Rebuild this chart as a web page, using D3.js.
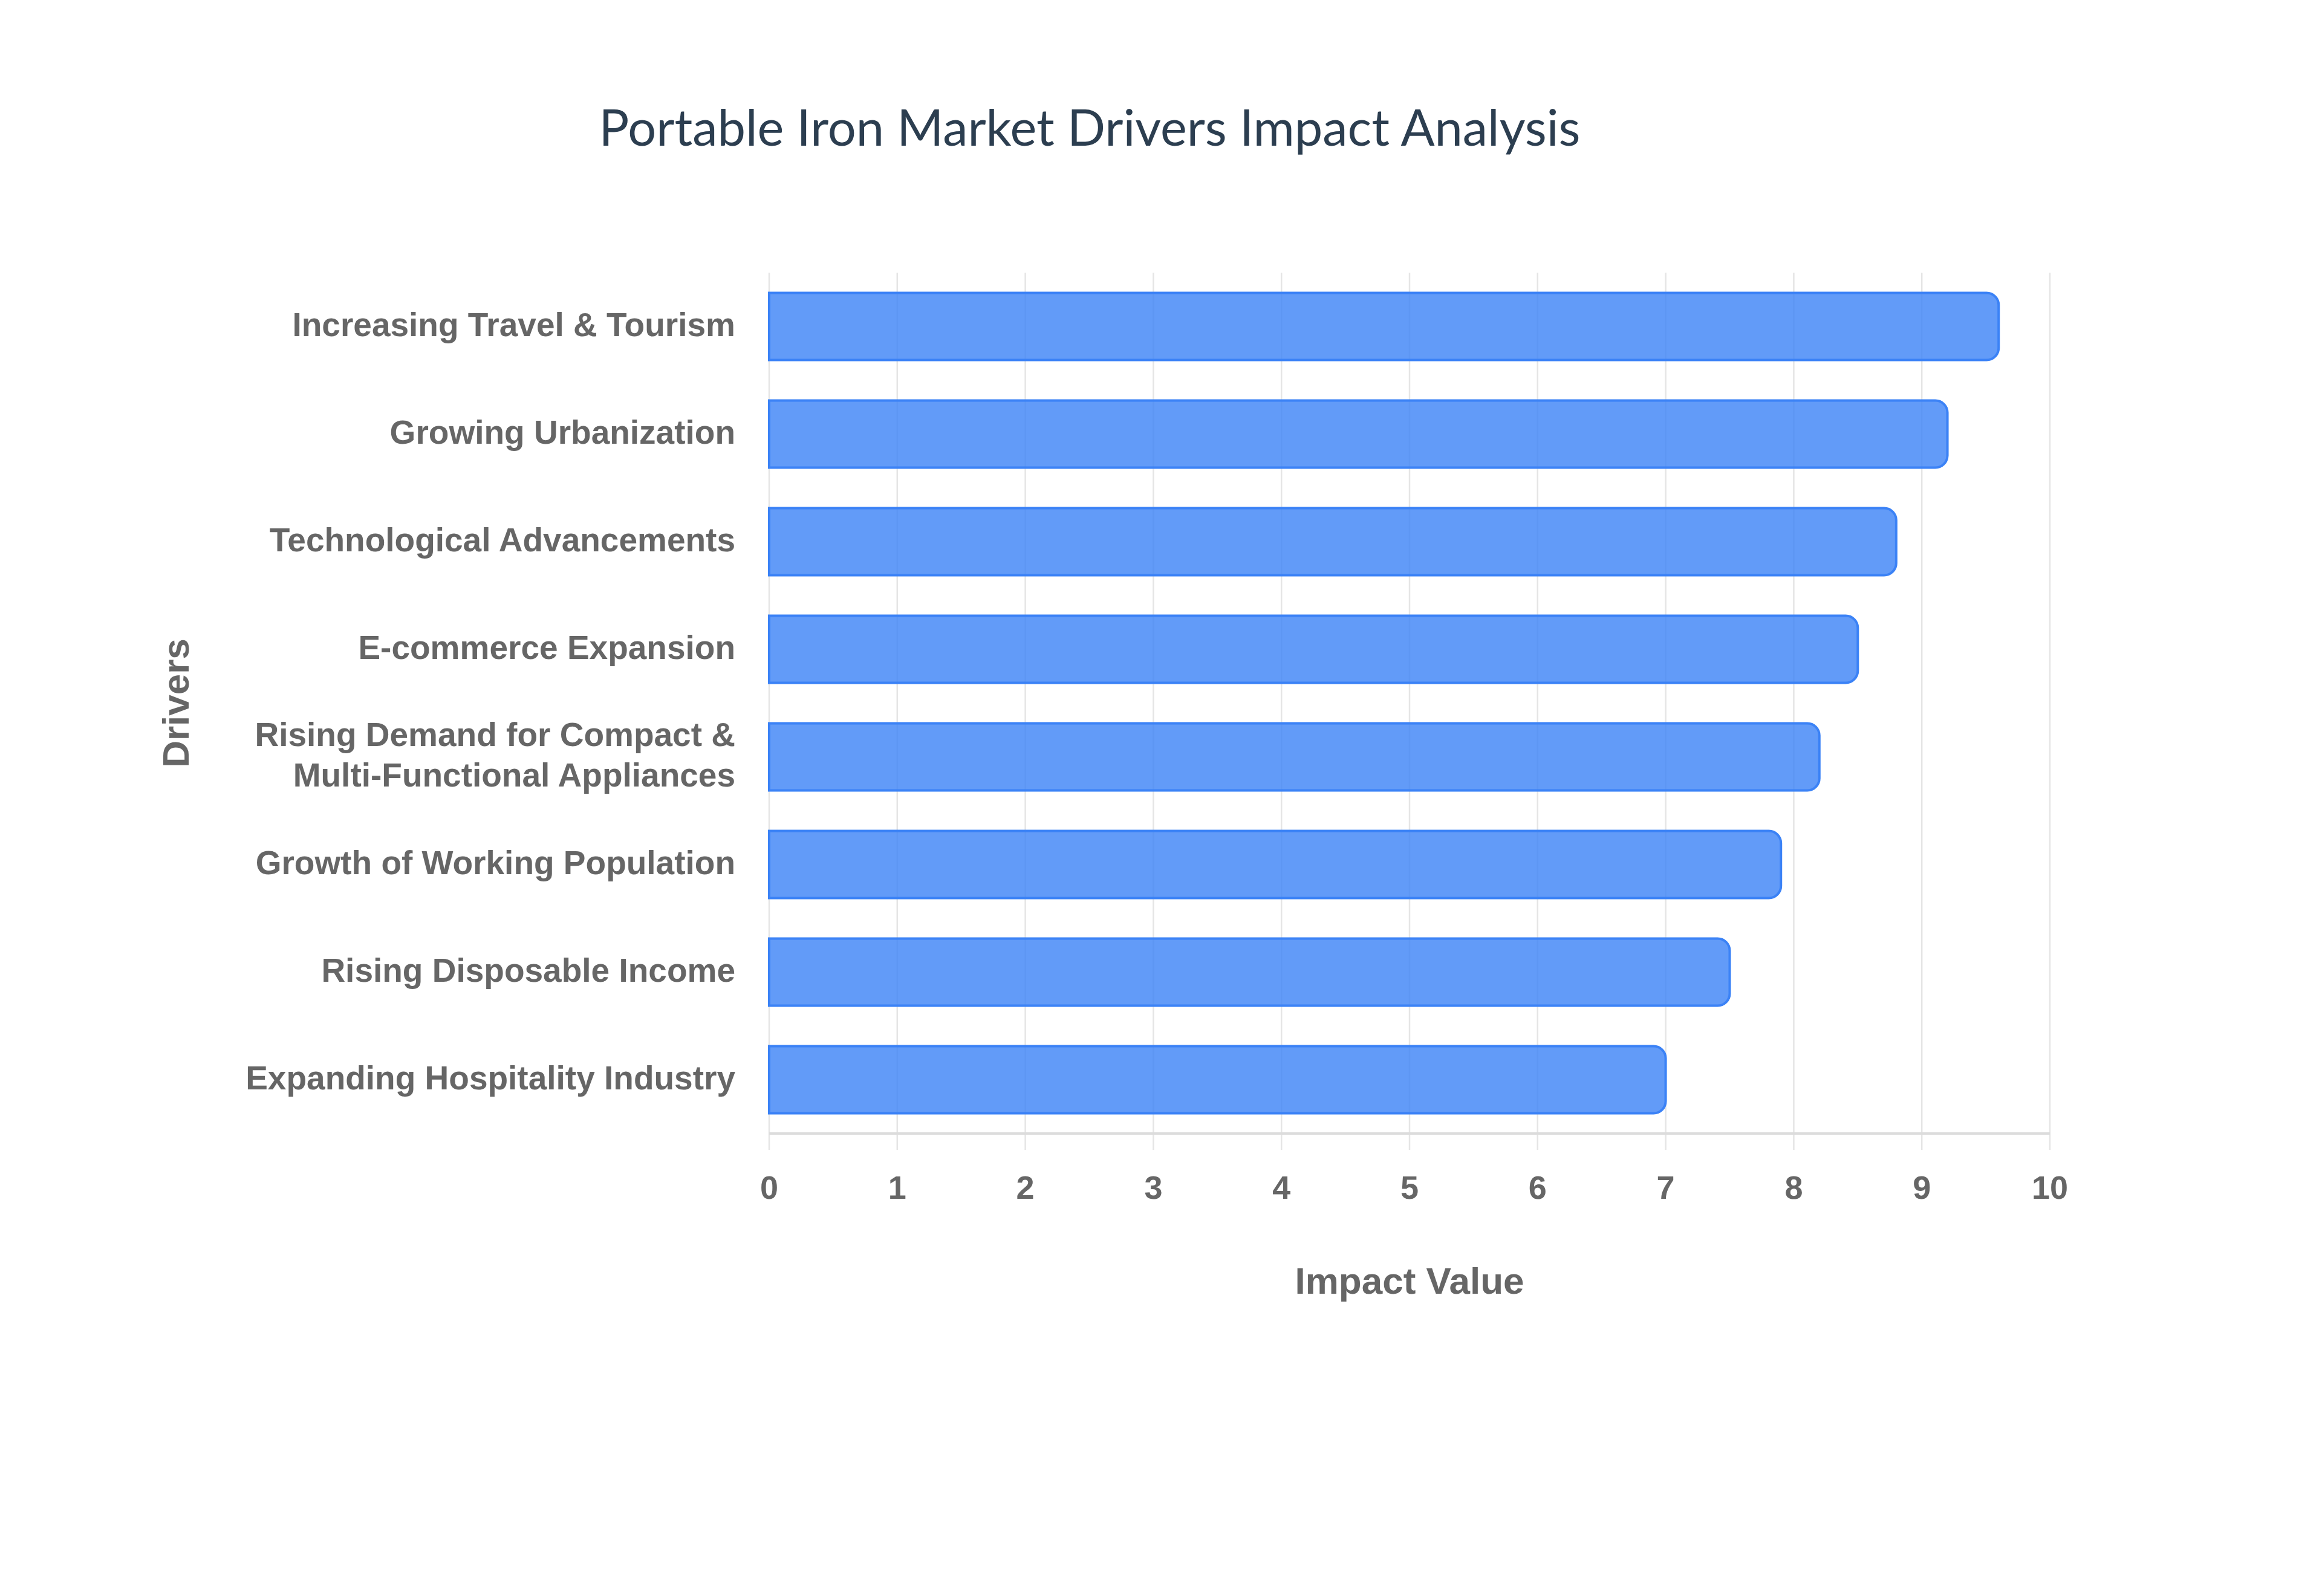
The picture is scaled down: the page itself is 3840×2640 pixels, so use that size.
<!DOCTYPE html>
<html>
<head>
  <meta charset="UTF-8">
  <title>Portable Iron Market Drivers Impact Analysis</title>
  <script src="https://cdn.jsdelivr.net/npm/d3@7"></script>
  <style>
    body { margin: 0; background: #fff; }
    svg text { font-family: "Liberation Sans", Arial, sans-serif; }
  </style>
</head>
<body>
<svg id="chart" width="3840" height="2640"></svg>
<script>
// data, top bar first
var drivers = [
  "Increasing Travel & Tourism",
  "Growing Urbanization",
  "Technological Advancements",
  "E-commerce Expansion",
  "Rising Demand for Compact &\nMulti-Functional Appliances",
  "Growth of Working Population",
  "Rising Disposable Income",
  "Expanding Hospitality Industry"
];
var impactValues = [9.6, 9.2, 8.8, 8.5, 8.2, 7.9, 7.5, 7.0];
var xTicks = [0, 1, 2, 3, 4, 5, 6, 7, 8, 9, 10];

var titleText = "Portable Iron Market Drivers Impact Analysis";
var xTitle = "Impact Value";
var yTitle = "Drivers";

var svg = d3.select("#chart");
svg.append("rect").attr("width", 3840).attr("height", 2640).attr("fill", "#fff");

// plot box (window.top is taken, so no bare "top")
var plotLeft = 1272, plotRight = 3390, plotTop = 451, plotBottom = 1875;

var x = d3.scaleLinear().domain([0, 10]).range([plotLeft, plotRight]);
var y = d3.scaleBand().domain(drivers).range([plotTop, plotBottom])
  .paddingInner(0.376).paddingOuter(0.188);

var rows = drivers.map(function(d, i) { return { name: d, value: impactValues[i] }; });

// vertical grid lines (run a little below the axis, like ticks)
svg.append("g").selectAll("line").data(xTicks).enter().append("line")
  .attr("x1", function(d) { return x(d); })
  .attr("x2", function(d) { return x(d); })
  .attr("y1", plotTop)
  .attr("y2", plotBottom + 27)
  .attr("stroke", "#e5e5e5")
  .attr("stroke-width", 2.5);

// bottom axis line
svg.append("line")
  .attr("x1", plotLeft).attr("x2", plotRight)
  .attr("y1", plotBottom).attr("y2", plotBottom)
  .attr("stroke", "#dcdcdc")
  .attr("stroke-width", 4);

// bars: square at the start, rounded at the end
var r = 20;
function barPath(d) {
  var x0 = x(0), x1 = x(d.value), y0 = y(d.name), h = y.bandwidth();
  return "M" + x0 + "," + y0 +
    "H" + (x1 - r) +
    "A" + r + "," + r + " 0 0 1 " + x1 + "," + (y0 + r) +
    "V" + (y0 + h - r) +
    "A" + r + "," + r + " 0 0 1 " + (x1 - r) + "," + (y0 + h) +
    "H" + x0 + "Z";
}
svg.append("g").selectAll("path").data(rows).enter().append("path")
  .attr("d", barPath)
  .attr("fill", "rgba(59,130,246,0.8)")
  .attr("stroke", "#3b82f6")
  .attr("stroke-width", 4);

// x tick labels
svg.append("g").selectAll("text").data(xTicks).enter().append("text")
  .attr("x", function(d) { return x(d); })
  .attr("y", 1983)
  .attr("text-anchor", "middle")
  .attr("font-size", 54)
  .attr("font-weight", "bold")
  .attr("fill", "#666")
  .text(function(d) { return d; });

// y tick labels, some split over two lines
var fs = 55;
var labels = svg.append("g").selectAll("text").data(rows).enter().append("text")
  .attr("text-anchor", "end")
  .attr("font-size", fs)
  .attr("font-weight", "bold")
  .attr("fill", "#666");
labels.each(function(d) {
  var lines = d.name.split("\n");
  var cy = y(d.name) + y.bandwidth() / 2;
  var lh = 67;
  var self = d3.select(this);
  lines.forEach(function(line, k) {
    self.append("tspan")
      .attr("x", 1216)
      .attr("y", cy + fs * 0.29 + (k - (lines.length - 1) / 2) * lh)
      .text(line);
  });
});

// axis titles
svg.append("text")
  .attr("x", (plotLeft + plotRight) / 2)
  .attr("y", 2140)
  .attr("text-anchor", "middle")
  .attr("font-size", 62)
  .attr("font-weight", "bold")
  .attr("fill", "#666")
  .text(xTitle);

svg.append("text")
  .attr("transform", "translate(312," + ((plotTop + plotBottom) / 2) + ") rotate(-90)")
  .attr("text-anchor", "middle")
  .attr("font-size", 62)
  .attr("font-weight", "bold")
  .attr("fill", "#666")
  .text(yTitle);

// chart title
svg.append("text")
  .attr("x", 1802)
  .attr("y", 241)
  .attr("text-anchor", "middle")
  .attr("font-size", 83)
  .attr("fill", "#2c3e50")
  .style("font-family", "Lato, 'Noto Sans', sans-serif")
  .text(titleText);
</script>
</body>
</html>
